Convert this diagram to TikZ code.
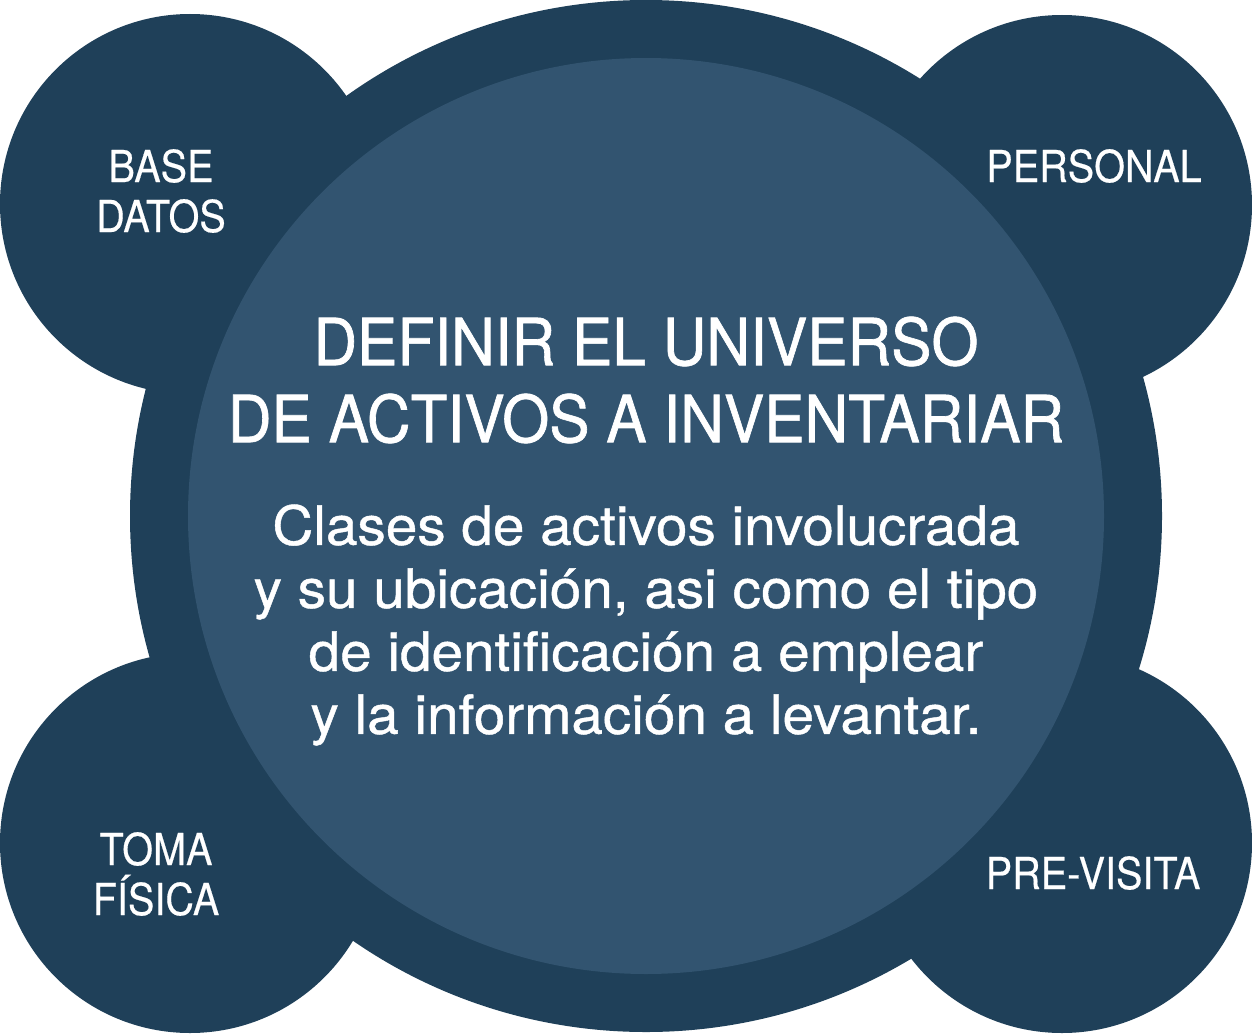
\documentclass[tikz,border=0pt]{standalone}
\usepackage{fontspec}
\setmainfont{TeX Gyre Heros}
\definecolor{navydark}{HTML}{1F4059}
\definecolor{navylight}{HTML}{325470}

\begin{document}
\begin{tikzpicture}[x=1pt,y=-1pt,
	cornerlabel/.style={text=white,align=center,inner sep=0pt,font=\fontsize{44}{50}\selectfont\addfontfeature{FakeStretch=0.9,FakeBold=0.4}},
	titlelabel/.style={text=white,align=center,inner sep=0pt,font=\fontsize{65}{77}\selectfont\addfontfeature{FakeStretch=0.93,FakeBold=1.0}},
	bodylabel/.style={text=white,align=center,inner sep=0pt,font=\fontsize{54}{63}\selectfont\addfontfeature{FakeStretch=1.05,FakeBold=0.8}}]
	\useasboundingbox (0,0) rectangle (1252,1033);
	\fill[navydark] (646,516) circle(516pt);
	\fill[navydark] (190,204) circle(190pt);
	\fill[navydark] (1062,205) circle(190pt);
	\fill[navydark] (190,843) circle(190pt);
	\fill[navydark] (1062,843) circle(190pt);
	\fill[navylight] (646,516) circle(458pt);
	\node[cornerlabel] (basedatos) at (161,191) {BASE\\DATOS};
	\node[cornerlabel] (personal) at (1094,166) {PERSONAL};
	\node[cornerlabel] (tomafisica) at (156,874) {TOMA\\FÍSICA};
	\node[cornerlabel] (previsita) at (1093,873) {PRE-VISITA};
	\node[titlelabel] (titulo) at (646,380) {DEFINIR EL UNIVERSO\\DE ACTIVOS A INVENTARIAR};
	\node[bodylabel] (detalle) at (646,625) {Clases de activos involucrada\\y su ubicación, asi como el tipo\\de identificación a emplear\\y la información a levantar.};
\end{tikzpicture}
\end{document}
